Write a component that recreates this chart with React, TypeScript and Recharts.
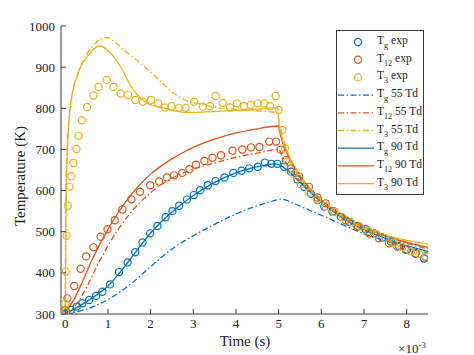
import React from 'react';
import { ComposedChart, Line, Scatter, XAxis, YAxis } from 'recharts';

const BLUE = '#0072BD';
const ORANGE = '#D95319';
const YELLOW = '#EDB120';
const AXIS = '#3a3a3a';
const FONT = "'Liberation Serif', 'Times New Roman', serif";
const DASHDOT = '6 2.5 1.5 2.5';

type P = [number, number];

// time in ms (axis shows x 10^-3 s), temperature in K
const X_TICKS = [0, 1, 2, 3, 4, 5, 6, 7, 8];
const Y_TICKS = [300, 400, 500, 600, 700, 800, 900, 1000];

const TG_EXP: P[] = [
  [0.0, 300], [0.13, 310], [0.27, 318], [0.4, 326], [0.56, 334], [0.72, 344], [0.87, 354], [1.05, 372],
  [1.26, 402], [1.46, 425], [1.64, 450], [1.81, 474], [1.99, 496], [2.16, 514], [2.35, 535], [2.51, 550],
  [2.67, 563], [2.85, 578], [3.01, 589], [3.16, 601], [3.34, 613], [3.52, 623], [3.73, 632], [3.94, 643],
  [4.13, 648], [4.31, 654], [4.51, 658], [4.68, 668], [4.83, 665], [4.97, 665], [5.13, 658], [5.29, 646],
  [5.44, 627], [5.6, 609], [5.75, 592], [5.91, 577], [6.07, 561], [6.26, 549], [6.46, 536], [6.65, 524],
  [6.85, 514], [7.04, 506], [7.24, 496], [7.43, 486], [7.63, 476], [7.82, 465], [8.01, 456], [8.21, 447],
  [8.41, 435],
];

const T12_EXP: P[] = [
  [0.0, 310], [0.05, 338], [0.21, 368], [0.36, 410], [0.49, 440], [0.66, 462], [0.83, 488], [0.99, 506],
  [1.16, 528], [1.34, 554], [1.55, 579], [1.75, 597], [1.99, 613], [2.2, 622], [2.38, 632], [2.55, 637],
  [2.74, 643], [2.91, 652], [3.06, 663], [3.26, 672], [3.45, 680], [3.65, 686], [3.92, 697], [4.15, 700],
  [4.35, 705], [4.55, 706], [4.78, 719], [4.94, 719], [5.05, 699], [5.17, 674], [5.29, 654], [5.48, 634],
  [5.71, 609], [5.91, 583], [6.1, 569], [6.3, 549], [6.57, 528], [6.85, 512], [7.12, 496], [7.35, 484],
  [7.59, 472], [7.78, 464], [7.98, 456], [8.21, 447], [8.44, 439],
];

const T3_EXP: P[] = [
  [0.0, 305], [0.0, 325], [0.01, 403], [0.03, 490], [0.06, 563], [0.1, 609], [0.14, 635], [0.19, 667],
  [0.26, 701], [0.31, 733], [0.39, 771], [0.51, 803], [0.66, 831], [0.78, 852], [0.97, 869], [1.13, 852],
  [1.3, 836], [1.47, 832], [1.64, 820], [1.82, 816], [2.01, 820], [2.18, 812], [2.33, 802], [2.49, 805],
  [2.67, 801], [2.82, 801], [3.02, 816], [3.22, 804], [3.39, 805], [3.52, 830], [3.69, 813], [3.86, 802],
  [4.02, 812], [4.19, 805], [4.35, 808], [4.51, 812], [4.66, 812], [4.8, 805], [4.93, 830], [5.0, 796],
  [5.09, 747], [5.15, 703], [5.2, 670], [5.35, 640], [5.52, 615], [5.7, 595], [5.9, 578], [6.1, 562],
  [6.3, 548], [6.5, 535], [6.7, 523], [6.9, 513], [7.1, 503], [7.3, 494], [7.5, 484], [7.7, 473],
  [7.9, 463], [8.1, 452], [8.3, 445], [8.45, 440],
];

const TG_55: P[] = [
  [0, 300], [0.5, 312], [1.0, 335], [1.5, 370], [2.0, 415], [2.5, 458], [3.0, 490], [3.5, 518],
  [4.0, 543], [4.5, 563], [5.0, 578], [5.05, 579], [5.5, 562], [6.0, 540], [6.5, 517], [7.0, 495],
  [7.5, 478], [8.0, 462], [8.5, 448],
];

const T12_55: P[] = [
  [0, 300], [0.25, 322], [0.5, 365], [0.75, 418], [1.0, 466], [1.25, 507], [1.5, 542], [1.75, 571],
  [2.0, 595], [2.5, 630], [3.0, 652], [3.5, 667], [4.0, 681], [4.5, 691], [5.0, 700], [5.1, 680],
  [5.3, 650], [5.6, 612], [6.0, 575], [6.5, 540], [7.0, 512], [7.5, 490], [8.0, 472], [8.5, 458],
];

const T3_55: P[] = [
  [0, 300], [0.02, 650], [0.1, 790], [0.3, 885], [0.5, 930], [0.7, 958], [0.97, 972], [1.2, 958],
  [1.4, 940], [1.77, 909], [2.16, 873], [2.55, 836], [2.82, 820], [3.02, 814], [3.42, 804], [4.04, 797],
  [4.5, 794], [4.95, 789], [5.05, 750], [5.2, 690], [5.5, 630], [6.0, 575], [6.5, 540], [7.0, 512],
  [7.5, 490], [8.0, 474], [8.5, 460],
];

const TG_90: P[] = [
  [0, 300], [0.5, 330], [1.0, 368], [1.5, 430], [2.0, 497], [2.5, 548], [3.0, 588], [3.5, 620],
  [4.0, 643], [4.5, 658], [4.9, 665], [5.0, 663], [5.2, 650], [5.5, 620], [6.0, 572], [6.5, 533],
  [7.0, 505], [7.5, 484], [8.0, 466], [8.5, 452],
];

const T12_90: P[] = [
  [0, 305], [0.2, 335], [0.4, 378], [0.6, 425], [0.8, 468], [1.0, 505], [1.2, 540], [1.4, 570],
  [1.6, 597], [1.8, 620], [2.0, 640], [2.25, 660], [2.5, 677], [2.75, 692], [3.0, 705], [3.5, 725],
  [4.0, 740], [4.5, 750], [5.0, 757], [5.02, 745], [5.1, 715], [5.25, 680], [5.5, 636], [5.75, 603],
  [6.0, 577], [6.5, 538], [7.0, 510], [7.5, 490], [8.0, 474], [8.5, 462],
];

const T3_90: P[] = [
  [0, 305], [0.02, 560], [0.05, 700], [0.14, 820], [0.33, 893], [0.57, 933], [0.8, 952], [1.07, 933],
  [1.3, 901], [1.5, 861], [1.69, 832], [1.93, 812], [2.24, 802], [2.55, 794], [2.82, 790], [3.65, 793],
  [4.43, 797], [4.86, 801], [4.98, 801], [5.01, 760], [5.25, 684], [5.56, 628], [5.95, 580], [6.34, 548],
  [6.8, 519], [7.27, 499], [7.82, 483], [8.5, 470],
];

const toPts = (a: P[]) => a.map(([x, y]) => ({ x, y }));

const LINES = [
  { key: 'tg55', data: TG_55, color: BLUE, dash: DASHDOT },
  { key: 't1255', data: T12_55, color: ORANGE, dash: DASHDOT },
  { key: 't355', data: T3_55, color: YELLOW, dash: DASHDOT },
  { key: 'tg90', data: TG_90, color: BLUE, dash: undefined },
  { key: 't1290', data: T12_90, color: ORANGE, dash: undefined },
  { key: 't390', data: T3_90, color: YELLOW, dash: undefined },
];

const SCATTERS = [
  { key: 'tgexp', data: TG_EXP, color: BLUE },
  { key: 't12exp', data: T12_EXP, color: ORANGE },
  { key: 't3exp', data: T3_EXP, color: YELLOW },
];

const LEGEND = [
  { sub: 'g', rest: 'exp', color: BLUE, kind: 'o' },
  { sub: '12', rest: 'exp', color: ORANGE, kind: 'o' },
  { sub: '3', rest: 'exp', color: YELLOW, kind: 'o' },
  { sub: 'g', rest: '55 Td', color: BLUE, kind: '-.' },
  { sub: '12', rest: '55 Td', color: ORANGE, kind: '-.' },
  { sub: '3', rest: '55 Td', color: YELLOW, kind: '-.' },
  { sub: 'g', rest: '90 Td', color: BLUE, kind: '-' },
  { sub: '12', rest: '90 Td', color: ORANGE, kind: '-' },
  { sub: '3', rest: '90 Td', color: YELLOW, kind: '-' },
];

const ring = (color: string) => (props: any) => (
  <circle cx={props.cx} cy={props.cy} r={3.6} fill="none" stroke={color} strokeWidth={1.2} />
);

const tickStyle = { fill: '#222', fontSize: 13, style: { fontFamily: FONT } };

const LegendBox = () => (
  <div
    style={{
      position: 'absolute', left: 328, top: 22, width: 88, height: 165,
      border: `1px solid ${AXIS}`, background: '#fff', boxSizing: 'border-box',
    }}
  >
    <svg width={86} height={163} style={{ display: 'block', fontFamily: FONT }}>
      {LEGEND.map((it, i) => {
        const cy = 11 + 17.7 * i;
        return (
          <g key={i}>
            {it.kind === 'o' ? (
              <circle cx={21} cy={cy} r={3.6} fill="none" stroke={it.color} strokeWidth={1.2} />
            ) : (
              <line x1={1} x2={37} y1={cy} y2={cy} stroke={it.color} strokeWidth={1.3}
                strokeDasharray={it.kind === '-.' ? DASHDOT : undefined} />
            )}
            <text x={40} y={cy + 2} style={{ fontFamily: FONT, fontSize: 11.5 }} fill="#222">
              T
              <tspan style={{ fontSize: 8 }} dy={4}>{it.sub}</tspan>
              <tspan dx={3} dy={-4}>{it.rest}</tspan>
            </text>
          </g>
        );
      })}
    </svg>
  </div>
);

export default function App() {
  return (
    <div style={{ position: 'relative', width: 466, height: 347, fontFamily: FONT }}>
      <ComposedChart width={466} height={347} margin={{ top: 18, right: 46, bottom: 0, left: 0 }}
        style={{ fontFamily: FONT }}>
        <XAxis
          dataKey="x" type="number" domain={[-0.1, 8.5]} ticks={X_TICKS} interval={0}
          allowDataOverflow height={41} tickSize={-5} tickMargin={10}
          axisLine={{ stroke: AXIS }} tickLine={{ stroke: AXIS }} tick={tickStyle}
        />
        <XAxis
          xAxisId="top" orientation="top" dataKey="x" type="number" domain={[-0.1, 8.5]} ticks={X_TICKS}
          interval={0} allowDataOverflow height={0} tickSize={-5} tick={false}
          axisLine={{ stroke: AXIS }} tickLine={{ stroke: AXIS }}
        />
        <YAxis
          type="number" domain={[300, 1000]} ticks={Y_TICKS} interval={0} allowDataOverflow
          width={53} tickSize={-5} tickMargin={11}
          axisLine={{ stroke: AXIS }} tickLine={{ stroke: AXIS }} tick={tickStyle}
        />
        <YAxis
          yAxisId="right" orientation="right" type="number" domain={[300, 1000]} ticks={Y_TICKS}
          interval={0} allowDataOverflow width={0} tickSize={-5} tick={false}
          axisLine={{ stroke: AXIS }} tickLine={{ stroke: AXIS }}
        />
        {LINES.map((l) => (
          <Line
            key={l.key} data={toPts(l.data)} dataKey="y" type="monotone" stroke={l.color}
            strokeWidth={1.3} strokeDasharray={l.dash} dot={false} activeDot={false}
            isAnimationActive={false}
          />
        ))}
        {SCATTERS.map((s) => (
          <Scatter
            key={s.key} data={toPts(s.data)} dataKey="y" shape={ring(s.color)}
            isAnimationActive={false}
          />
        ))}
      </ComposedChart>
      <LegendBox />
      <div style={{
        position: 'absolute', left: 12, top: 168, transform: 'translate(-50%, -50%) rotate(-90deg)',
        fontSize: 15, whiteSpace: 'nowrap', color: '#222', lineHeight: 1,
      }}>Temperature (K)</div>
      <div style={{
        position: 'absolute', left: 237, top: 333, transform: 'translate(-50%, -50%)',
        fontSize: 15, whiteSpace: 'nowrap', color: '#222', lineHeight: 1,
      }}>Time (s)</div>
      <div style={{
        position: 'absolute', left: 404, top: 340, transform: 'translate(-50%, -50%)',
        fontSize: 13, whiteSpace: 'nowrap', color: '#222', lineHeight: 1,
      }}>×10<span style={{ fontSize: 9, position: 'relative', top: -5 }}>-3</span></div>
    </div>
  );
}
